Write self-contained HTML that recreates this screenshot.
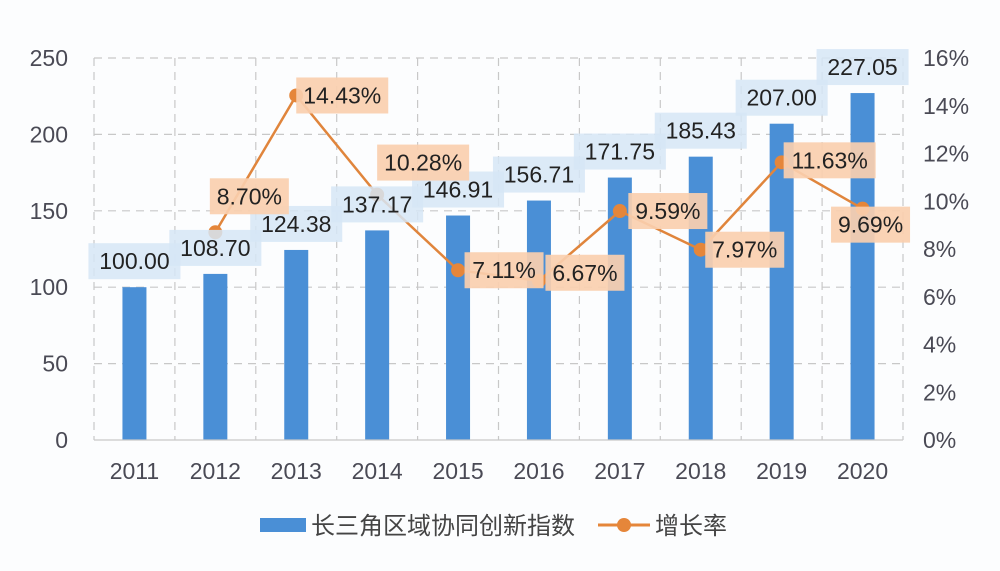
<!DOCTYPE html>
<html><head><meta charset="utf-8"><style>
body{margin:0;background:#fcfdfe;}
svg text{font-family:"Liberation Sans","Noto Sans CJK SC",sans-serif;}
</style></head><body>
<svg id="chart" width="1000" height="566" viewBox="0 0 1000 566" xmlns="http://www.w3.org/2000/svg">
<rect width="1000" height="566" fill="#fcfdfe"/>
<g id="grid"></g>
<g id="bars"></g>
<g id="line"></g>
<g id="labels"></g>
<g id="axes"></g>
<g>
  <rect x="260" y="518" width="46" height="14" fill="#4a8fd6"/>
  <text x="311" y="534" font-size="24" fill="#444">长三角区域协同创新指数</text>
  <line x1="598" y1="525" x2="650" y2="525" stroke="#e5863a" stroke-width="3"/>
  <circle cx="624" cy="525" r="7" fill="#e5863a"/>
  <text x="655" y="534" font-size="24" fill="#444">增长率</text>
</g>
</svg>
<script>
const categories=["2011","2012","2013","2014","2015","2016","2017","2018","2019","2020"];
const indexValues=[100.00,108.70,124.38,137.17,146.91,156.71,171.75,185.43,207.00,227.05];
const growthValues=[null,8.70,14.43,10.28,7.11,6.67,9.59,7.97,11.63,9.69];
const leftTicks=[0,50,100,150,200,250];
const rightTicks=[0,2,4,6,8,10,12,14,16];
const NS="http://www.w3.org/2000/svg";
const L=94,R=903,T=58,B=440;
const bw=(R-L)/categories.length;
const xC=i=>L+bw*(i+0.5);
const yL=v=>B-(v/250)*(B-T);
const yR=v=>B-(v/16)*(B-T);
function mk(tag,attrs,parent,txt){const e=document.createElementNS(NS,tag);for(const k in attrs)e.setAttribute(k,attrs[k]);if(txt!==undefined)e.textContent=txt;parent.appendChild(e);return e;}
const grid=document.getElementById('grid'),bars=document.getElementById('bars'),line=document.getElementById('line'),labels=document.getElementById('labels'),axes=document.getElementById('axes');
leftTicks.forEach(t=>{
  if(t>0){const g=mk('line',{x1:L,x2:R,y1:yL(t),y2:yL(t),stroke:'#c8c8c8','stroke-dasharray':'8,6','stroke-width':1.2},grid);
  
  }
  const tx=mk('text',{x:68,y:yL(t)+8,'font-size':23,fill:'#4a4a55','text-anchor':'end'},axes,String(t));
  
  
});
rightTicks.forEach(t=>{
  const tx=mk('text',{x:923,y:yR(t)+8,'font-size':23,fill:'#4a4a55'},axes,t+'%');
  
  
});
for(let i=0;i<=categories.length;i++){
  const g=mk('line',{x1:L+bw*i,x2:L+bw*i,y1:T,y2:B,stroke:'#c8c8c8','stroke-dasharray':'8,6','stroke-width':1.2},grid);
  
  
}
const base=mk('line',{x1:L,x2:R,y1:B,y2:B,stroke:'#c8c8c8','stroke-width':1.2},axes);


categories.forEach((c,i)=>{
  const tx=mk('text',{x:xC(i),y:479,'font-size':23,fill:'#4a4a55','text-anchor':'middle'},axes,c);
  
  
});
indexValues.forEach((v,i)=>{
  const r=mk('rect',{x:xC(i)-12,y:yL(v),width:24,height:B-yL(v),fill:'#4a8fd6'},bars);
  
  
});
let pts=[];growthValues.forEach((v,i)=>{if(v!==null)pts.push([xC(i),yR(v)]);});
const pl=mk('polyline',{points:pts.map(p=>p.join(',')).join(' '),fill:'none',stroke:'#e0853c','stroke-width':2.5},line);


growthValues.forEach((v,i)=>{if(v===null)return;
  const c=mk('circle',{cx:xC(i),cy:yR(v),r:7,fill:'#e5863a'},line);
  
  
});
function box(cx,cy,text,bg,name){
  const w=text.length*13+14,h=36;
  const r=mk('rect',{x:cx-w/2,y:cy-h/2,width:w,height:h,fill:bg},labels);
  
  
  const t=mk('text',{x:cx,y:cy+8,'font-size':23,fill:'#222','text-anchor':'middle'},labels,text);
  
  
}
indexValues.forEach((v,i)=>box(xC(i),yL(v)-26,v.toFixed(2),'rgba(214,230,246,0.85)','value-label-'+categories[i]));
const offX=[0,34,46,46,46,46,48,44,48,8],offY=[0,-36,0,-32,0,-8,0,0,-2,16];
growthValues.forEach((v,i)=>{if(v===null)return;box(xC(i)+offX[i],yR(v)+offY[i],v.toFixed(2)+'%','rgba(250,207,175,0.92)','growth-label-'+categories[i]);});
</script>
</body></html>
